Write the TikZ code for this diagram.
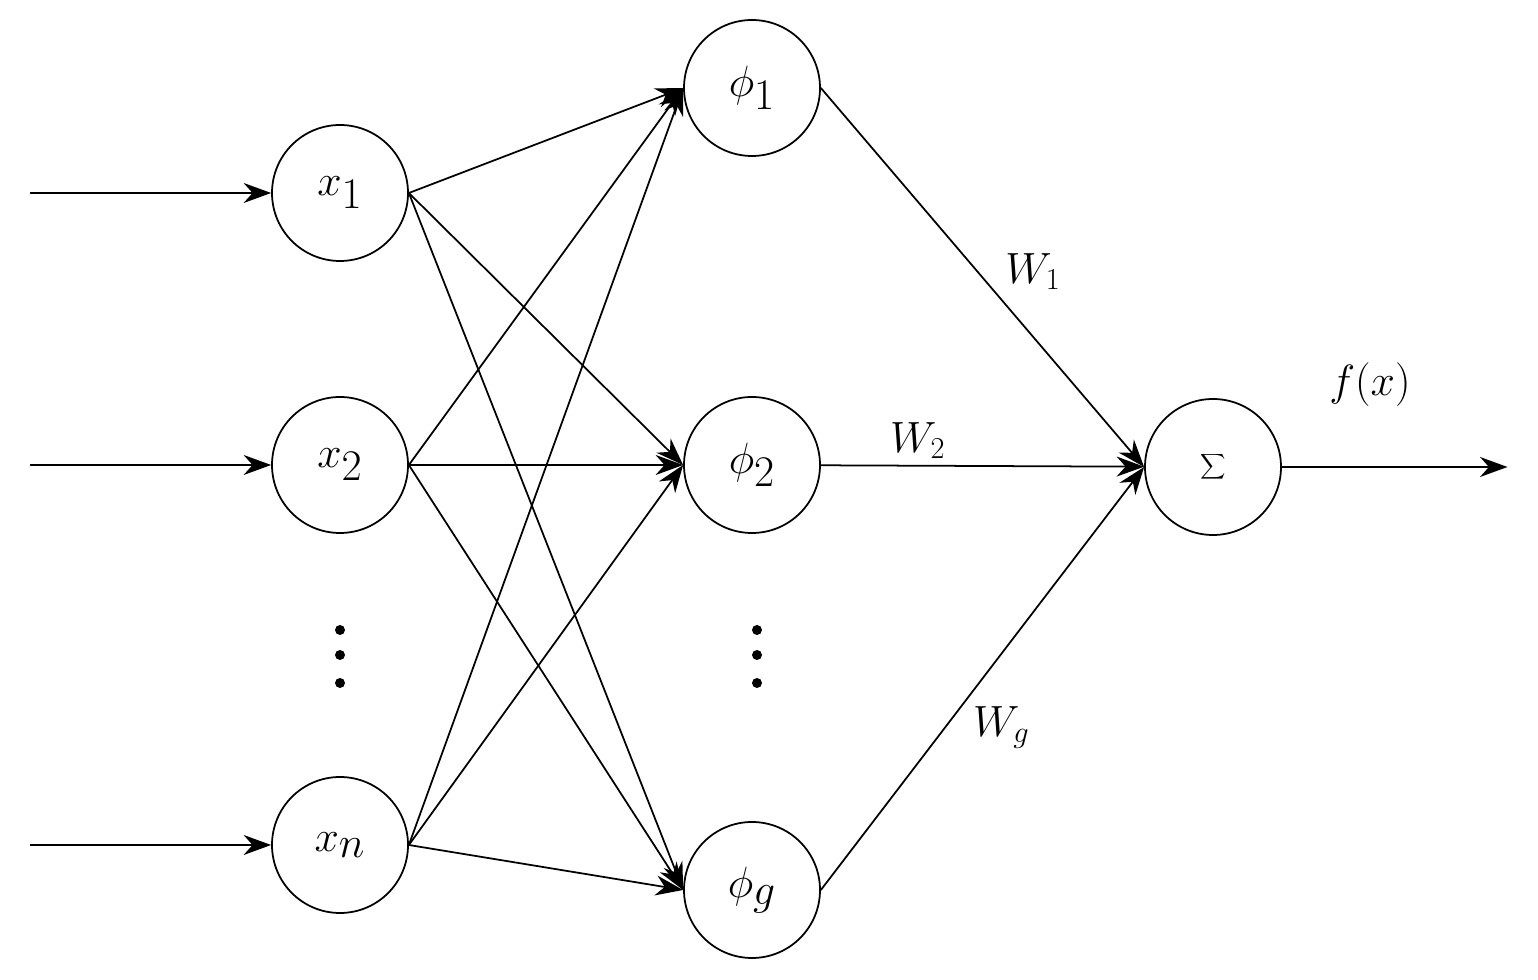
\documentclass[tikz,border=0pt]{standalone}
\usetikzlibrary{arrows.meta}
\begin{document}
\begin{tikzpicture}[
  neu/.style={circle,draw,line width=1pt,minimum size=2.72cm,inner sep=0pt,font=\fontsize{34}{40}\selectfont},
  con/.style={line width=1pt,-{Stealth[length=0.55cm,width=0.4cm]}},
  dot/.style={circle,fill,inner sep=0pt,minimum size=0.2cm},
  lab/.style={font=\fontsize{26}{30}\selectfont}]
\useasboundingbox (0,0) rectangle (30.76,19.6);
\node[neu] (x1) at (6.8,15.74) {$x_1$};
\node[neu] (x2) at (6.8,10.3) {$x_2$};
\node[neu] (xn) at (6.8,2.7) {$x_n$};
\node[neu] (p1) at (15.04,17.84) {$\phi_1$};
\node[neu] (p2) at (15.04,10.3) {$\phi_2$};
\node[neu] (pg) at (15.04,1.8) {$\phi_g$};
\node[neu] (s) at (24.26,10.26) {$\displaystyle\sum$};
\foreach \i/\y in {a/7.0,b/6.5,c/5.94}{
  \node[dot] (l\i) at (6.8,\y) {};
  \node[dot] (r\i) at (15.14,\y) {};}
\coordinate (i1) at (0.6,15.74);
\coordinate (i2) at (0.6,10.3);
\coordinate (in) at (0.6,2.7);
\coordinate (o) at (30.15,10.26);
\draw[con] (i1) -- (x1);
\draw[con] (i2) -- (x2);
\draw[con] (in) -- (xn);
\foreach \a in {x1,x2,xn}{\foreach \b in {p1,p2,pg}{\draw[con] (\a.east) -- (\b.west);}}
\draw[con] (p1.east) -- node[lab,pos=0.55,above right] {$W_1$} (s.west);
\draw[con] (p2) -- node[lab,pos=0.3,above] {$W_2$} (s);
\draw[con] (pg.east) -- node[lab,pos=0.45,below right] {$W_g$} (s.west);
\draw[con] (s) -- (o);
\node[font=\fontsize{34}{40}\selectfont] (f) at (27.4,11.9) {$f(x)$};
\end{tikzpicture}
\end{document}
